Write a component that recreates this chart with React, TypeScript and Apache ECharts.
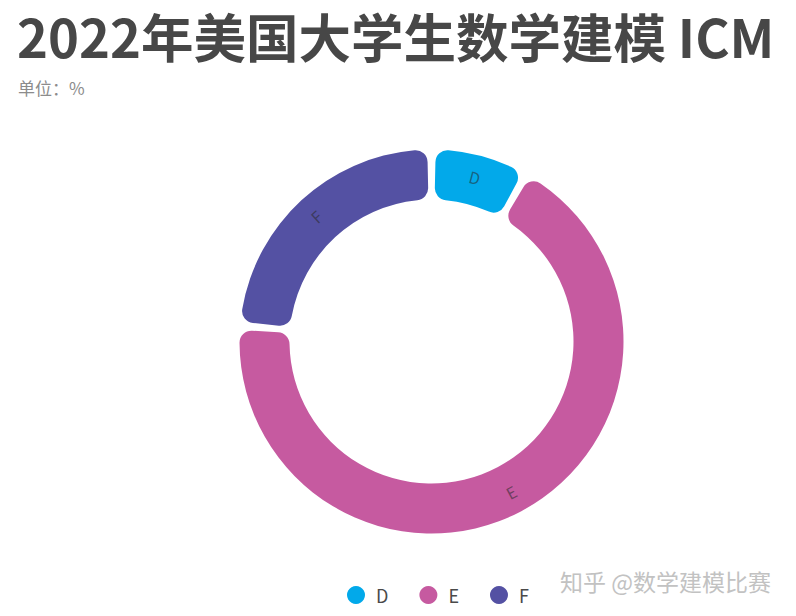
import { useEffect, useRef } from 'react'
import * as echarts from 'echarts'

const categories = ['D', 'E', 'F']
const shares = [8.2, 68.1, 23.7]
const colors = ['#02a9ea', '#c65aa0', '#5451a3']

const titleText = '2022年美国大学生数学建模 ICM'
const subText = '单位：%'
const watermark = '知乎 @数学建模比赛'

export default function App() {
  const ref = useRef<HTMLDivElement | null>(null)

  useEffect(() => {
    if (!ref.current) return
    const chart = echarts.init(ref.current, undefined, { renderer: 'svg' })
    const font = '"Noto Sans CJK SC", "Noto Sans", sans-serif'

    chart.setOption({
      animation: false,
      backgroundColor: '#ffffff',
      legend: {
        data: categories,
        left: 342,
        top: 581,
        icon: 'circle',
        itemWidth: 18,
        itemHeight: 18,
        itemGap: 31,
        textStyle: { fontFamily: font, fontSize: 18, color: '#4a4a4a', padding: [0, 0, 0, 6] }
      },
      graphic: [
        {
          type: 'text',
          left: 17,
          top: 9,
          style: { text: titleText, font: `bold 52.5px ${font}`, fill: '#474747' }
        },
        {
          type: 'text',
          left: 18,
          top: 79,
          style: { text: subText, font: `17px ${font}`, fill: '#8c8c8c' }
        },
        {
          type: 'text',
          left: 560,
          top: 569,
          style: { text: watermark, font: `23px ${font}`, fill: '#c2c2c2' }
        }
      ],
      series: [
        {
          type: 'pie',
          center: [431.5, 341.5],
          radius: [142, 192],
          startAngle: 90,
          padAngle: 2.5,
          itemStyle: { borderRadius: 12 },
          label: {
            show: true,
            position: 'inside',
            rotate: 'tangential',
            formatter: '{b}',
            fontFamily: font,
            fontSize: 16,
            color: 'rgba(40,40,40,0.55)'
          },
          labelLine: { show: false },
          emphasis: { disabled: true },
          data: categories.map((name, i) => ({
            name,
            value: shares[i],
            itemStyle: { color: colors[i] }
          }))
        }
      ]
    })

    return () => {
      chart.dispose()
    }
  }, [])

  return <div ref={ref} style={{ position: 'fixed', left: 0, top: 0, width: 796, height: 616 }} />
}
